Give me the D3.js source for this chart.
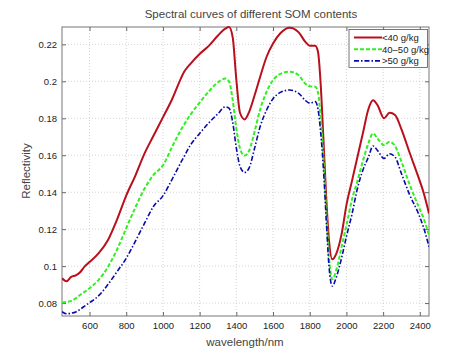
<!DOCTYPE html>
<html><head><meta charset="utf-8">
<script src="https://cdn.jsdelivr.net/npm/d3@7"></script>
<style>
body{margin:0;background:#fff;}
svg{display:block;font-family:"Liberation Sans",Arial,sans-serif;}
</style></head>
<body><svg id="c" width="474" height="355"></svg>
<script>
const wavelengths = [450,475,500,525,550,575,600,650,700,750,800,850,900,950,1000,1050,1100,1115,1150,1200,1250,1300,1340,1360,1380,1400,1420,1445,1470,1500,1530,1565,1600,1640,1690,1740,1775,1800,1830,1845,1860,1875,1890,1905,1923,1945,1975,2000,2030,2060,2090,2120,2145,2170,2205,2235,2265,2300,2345,2390,2420,2450];
const seriesLow = [0.0934,0.0918,0.0942,0.0950,0.0968,0.1000,0.1022,0.1070,0.1140,0.1252,0.1382,0.1490,0.1610,0.1708,0.1805,0.1903,0.2020,0.2050,0.2095,0.2148,0.2192,0.2248,0.2285,0.2294,0.2240,0.2010,0.1830,0.1794,0.1835,0.1926,0.2025,0.2133,0.2205,0.2260,0.2290,0.2265,0.2215,0.2193,0.2192,0.2160,0.1980,0.1680,0.1370,0.1140,0.1037,0.1068,0.1180,0.1330,0.1460,0.1590,0.1720,0.1850,0.1897,0.1870,0.1800,0.1830,0.1818,0.1740,0.1612,0.1488,0.1400,0.1285];
const seriesMid = [0.0803,0.0806,0.0812,0.0825,0.0845,0.0862,0.0880,0.0926,0.0995,0.1090,0.1205,0.1318,0.1420,0.1495,0.1545,0.1645,0.1740,0.1765,0.1820,0.1885,0.1945,0.1995,0.2015,0.2000,0.1900,0.1745,0.1637,0.1598,0.1625,0.1730,0.1848,0.1944,0.2006,0.2040,0.2052,0.2033,0.1988,0.1974,0.1971,0.1940,0.1800,0.1580,0.1300,0.1050,0.0929,0.0980,0.1110,0.1220,0.1360,0.1460,0.1570,0.1665,0.1718,0.1690,0.1655,0.1673,0.1650,0.1565,0.1440,0.1330,0.1260,0.1168];
const seriesHigh = [0.0753,0.0742,0.0745,0.0752,0.0767,0.0785,0.0802,0.0840,0.0900,0.0970,0.1042,0.1135,0.1232,0.1325,0.1380,0.1470,0.1565,0.1592,0.1655,0.1718,0.1775,0.1825,0.1862,0.1855,0.1780,0.1640,0.1540,0.1507,0.1532,0.1640,0.1755,0.1845,0.1906,0.1940,0.1953,0.1935,0.1898,0.1882,0.1890,0.1850,0.1720,0.1520,0.1250,0.1000,0.0892,0.0940,0.1050,0.1160,0.1280,0.1420,0.1520,0.1590,0.1650,0.1625,0.1583,0.1608,0.1590,0.1500,0.1385,0.1290,0.1210,0.1105];
const seriesNames = ["<40 g/kg","40\u201350 g/kg",">50 g/kg"];
const xTicks = [600,800,1000,1200,1400,1600,1800,2000,2200,2400];
const yTicks = [0.08,0.10,0.12,0.14,0.16,0.18,0.20,0.22];
const chartTitle = "Spectral curves of different SOM contents";
const xTitle = "wavelength/nm";
const yTitle = "Reflectivity";

const W=474,H=355, m={l:62,r:45,t:27,b:39};
const svg=d3.select("#c");
const x=d3.scaleLinear().domain([450,2450]).range([m.l,W-m.r]);
const y=d3.scaleLinear().domain([0.073,0.2294]).range([H-m.b,m.t]);
const pw=W-m.r-m.l, ph=H-m.b-m.t;

// grid
const g=svg.append("g");
g.selectAll(".gx").data(xTicks).enter().append("line")
 .attr("x1",d=>x(d)).attr("x2",d=>x(d)).attr("y1",m.t).attr("y2",H-m.b)
 .attr("stroke","#c8c8c8").attr("stroke-width",0.8).attr("stroke-dasharray","1,2");
g.selectAll(".gy").data(yTicks).enter().append("line")
 .attr("y1",d=>y(d)).attr("y2",d=>y(d)).attr("x1",m.l).attr("x2",W-m.r)
 .attr("stroke","#c8c8c8").attr("stroke-width",0.8).attr("stroke-dasharray","1,2");

const fmt=d=>String(+d.toFixed(2));
const axB=svg.append("g").attr("transform",`translate(0,${H-m.b})`)
 .call(d3.axisBottom(x).tickValues(xTicks).tickSize(-4).tickPadding(6).tickFormat(d3.format("d")));
const axL=svg.append("g").attr("transform",`translate(${m.l},0)`)
 .call(d3.axisLeft(y).tickValues(yTicks).tickSize(-4).tickPadding(5).tickFormat(fmt));
const axT=svg.append("g").attr("transform",`translate(0,${m.t})`)
 .call(d3.axisTop(x).tickValues(xTicks).tickSize(-4).tickFormat(""));
const axR=svg.append("g").attr("transform",`translate(${W-m.r},0)`)
 .call(d3.axisRight(y).tickValues(yTicks).tickSize(-4).tickFormat(""));
[axB,axL,axT,axR].forEach(a=>{
  a.select(".domain").remove();
  a.selectAll("line").attr("stroke","#666");
  a.selectAll("text").attr("fill","#222").style("font-size","9.5px").style("font-family","'Liberation Sans',Arial,sans-serif");
});
svg.append("rect").attr("x",m.l).attr("y",m.t).attr("width",pw).attr("height",ph)
 .attr("fill","none").attr("stroke","#777").attr("stroke-width",1);

// lines
const clip=svg.append("clipPath").attr("id","cp").append("rect")
 .attr("x",m.l).attr("y",m.t-2).attr("width",pw).attr("height",ph+2);
const line=d3.line().x(d=>x(d[0])).y(d=>y(d[1])).curve(d3.curveMonotoneX);
const styles=[
 {vals:seriesLow,color:"#b8101c",w:2,dash:null},
 {vals:seriesMid,color:"#33ee22",w:2,dash:"4,2"},
 {vals:seriesHigh,color:"#0a0aa8",w:1.6,dash:"5,2,1.5,2"}
];
styles.forEach(s=>{
  svg.append("path").datum(wavelengths.map((w,i)=>[w,s.vals[i]]))
   .attr("d",line).attr("fill","none").attr("stroke",s.color)
   .attr("stroke-width",s.w).attr("stroke-dasharray",s.dash).attr("clip-path","url(#cp)");
});

// legend
const lg=svg.append("g");
lg.append("rect").attr("x",349).attr("y",29.5).attr("width",78.5).attr("height",38)
 .attr("fill","#fff").attr("stroke","#555").attr("stroke-width",0.8);
styles.forEach((s,i)=>{
  const yy=37.5+i*11.7;
  lg.append("line").attr("x1",354).attr("x2",382).attr("y1",yy).attr("y2",yy)
   .attr("stroke",s.color).attr("stroke-width",s.w).attr("stroke-dasharray",s.dash);
  lg.append("text").attr("x",382).attr("y",yy+3.5).text(seriesNames[i])
   .attr("fill","#222").style("font-size","9.5px");
});

// titles
svg.append("text").attr("x",251).attr("y",18).attr("text-anchor","middle")
 .attr("fill","#444").style("font-size","11.5px").text(chartTitle);
svg.append("text").attr("x",245).attr("y",346).attr("text-anchor","middle")
 .attr("fill","#444").style("font-size","11.5px").text(xTitle);
svg.append("text").attr("transform","translate(30,171) rotate(-90)").attr("text-anchor","middle")
 .attr("fill","#444").style("font-size","11.5px").text(yTitle);
</script></body></html>
